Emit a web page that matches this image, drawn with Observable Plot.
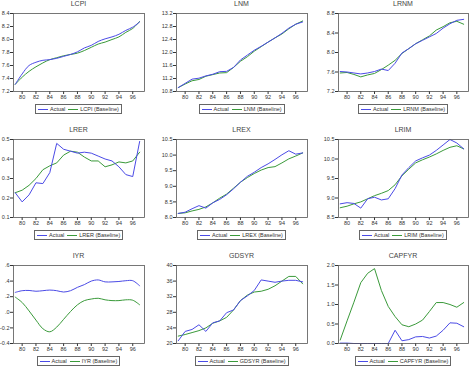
<!DOCTYPE html>
<html>
<head>
<meta charset="utf-8">
<script src="https://cdn.jsdelivr.net/npm/d3@7"></script>
<script src="https://cdn.jsdelivr.net/npm/@observablehq/plot@0.6"></script>
<style>
  html, body { margin: 0; padding: 0; background: #fff; }
  #root { position: relative; width: 474px; height: 366px; overflow: hidden; font-family: "Liberation Sans", Arial, sans-serif; }
  .title { position: absolute; font-size: 7px; font-weight: 400; color: #444; text-align: center; line-height: 8px; }
  .panel { position: absolute; }
  .legend { position: absolute; border: 1px solid #666; font-size: 5.5px; color: #333; display: flex; align-items: center; justify-content: center; gap: 3px; height: 8px; line-height: 8px; padding: 0 2px; white-space: nowrap; background: #fff; }
  .sw { display: inline-block; width: 10px; height: 0; border-top: 1px solid; vertical-align: middle; margin-right: 2px; }
</style>
</head>
<body>
<div id="root"></div>
<script>
const years = [1979,1980,1981,1982,1983,1984,1985,1986,1987,1988,1989,1990,1991,1992,1993,1994,1995,1996,1997];
const xTicks = [1980,1982,1984,1986,1988,1990,1992,1994,1996];

const titles = ["LCPI","LNM","LRNM","LRER","LREX","LRIM","IYR","GDSYR","CAPFYR"];
const seriesNames = ["Actual","(Baseline)"];

const lcpiActual = [7.31,7.47,7.60,7.65,7.68,7.69,7.71,7.74,7.77,7.81,7.87,7.91,7.97,8.01,8.04,8.08,8.14,8.19,8.27];
const lcpiBase   = [7.31,7.42,7.51,7.58,7.64,7.69,7.72,7.75,7.77,7.79,7.83,7.88,7.93,7.96,8.00,8.04,8.11,8.17,8.28];
const lnmActual  = [10.92,11.05,11.18,11.21,11.28,11.33,11.41,11.42,11.54,11.77,11.92,12.07,12.19,12.32,12.45,12.59,12.75,12.87,12.94];
const lnmBase    = [10.92,11.03,11.13,11.17,11.27,11.32,11.37,11.38,11.54,11.73,11.87,12.04,12.18,12.32,12.45,12.57,12.73,12.87,12.97];
const lrnmActual = [7.61,7.60,7.58,7.56,7.58,7.61,7.66,7.63,7.78,7.99,8.08,8.18,8.25,8.32,8.39,8.50,8.59,8.66,8.68];
const lrnmBase   = [7.58,7.59,7.55,7.50,7.54,7.57,7.65,7.74,7.84,7.98,8.08,8.18,8.26,8.34,8.46,8.53,8.61,8.64,8.58];
const lrerActual = [0.227,0.18,0.216,0.278,0.274,0.33,0.48,0.45,0.44,0.43,0.435,0.43,0.415,0.40,0.39,0.36,0.32,0.31,0.49];
const lrerBase   = [0.227,0.24,0.265,0.30,0.345,0.365,0.38,0.42,0.44,0.435,0.41,0.39,0.39,0.36,0.37,0.385,0.38,0.39,0.435];
const lrexActual = [8.13,8.17,8.28,8.38,8.30,8.47,8.58,8.73,8.92,9.13,9.32,9.45,9.60,9.72,9.86,10.01,10.14,10.03,10.07];
const lrexBase   = [8.13,8.15,8.21,8.26,8.34,8.47,8.62,8.75,8.94,9.13,9.28,9.41,9.52,9.60,9.63,9.75,9.88,9.97,10.07];
const lrimActual = [8.85,8.88,8.86,8.74,8.98,9.02,8.95,8.98,9.24,9.59,9.78,9.95,10.03,10.10,10.22,10.36,10.50,10.41,10.26];
const lrimBase   = [8.75,8.79,8.85,8.90,8.98,9.06,9.12,9.19,9.34,9.57,9.74,9.90,9.98,10.05,10.13,10.22,10.30,10.34,10.26];
const iyrActual  = [0.255,0.277,0.28,0.27,0.277,0.285,0.277,0.26,0.277,0.32,0.355,0.40,0.415,0.39,0.39,0.395,0.405,0.405,0.34];
const iyrBase    = [0.195,0.126,0.018,-0.10,-0.21,-0.25,-0.19,-0.09,0.01,0.096,0.15,0.17,0.18,0.16,0.15,0.15,0.16,0.155,0.096];
const gdsyrActual = [20.7,23.1,23.6,24.8,23.1,25.3,25.8,27.9,28.6,31.0,32.2,33.6,36.3,36.0,35.7,36.0,36.2,36.2,35.8];
const gdsyrBase   = [21.9,22.3,22.8,23.3,24.0,25.2,25.8,26.7,28.6,31.0,32.4,33.2,33.4,33.9,34.8,36.0,37.2,37.2,35.3];
const capfyrActual = [0.01,0.01,0,0,0,0,0,0,0.34,0.07,0.10,0.17,0.18,0.14,0.19,0.34,0.53,0.52,0.43];
const capfyrBase   = [0.09,0.58,1.06,1.56,1.80,1.92,1.36,0.95,0.69,0.48,0.43,0.50,0.60,0.82,1.05,1.05,1.00,0.93,1.05];

const yDomains = [[7.2,8.4],[10.8,13.2],[7.2,8.8],[0.1,0.5],[8.0,10.5],[8.5,10.5],[-0.4,0.6],[20,40],[0,2]];
const yTicks = [
  [7.2,7.4,7.6,7.8,8.0,8.2,8.4],
  [10.8,11.2,11.6,12.0,12.4,12.8,13.2],
  [7.2,7.6,8.0,8.4,8.8],
  [0.1,0.2,0.3,0.4,0.5],
  [8.0,8.5,9.0,9.5,10.0,10.5],
  [8.5,9.0,9.5,10.0,10.5],
  [-0.4,-0.2,0.0,0.2,0.4,0.6],
  [20,24,28,32,36,40],
  [0.0,0.5,1.0,1.5,2.0]
];
const actuals = [lcpiActual,lnmActual,lrnmActual,lrerActual,lrexActual,lrimActual,iyrActual,gdsyrActual,capfyrActual];
const baselines = [lcpiBase,lnmBase,lrnmBase,lrerBase,lrexBase,lrimBase,iyrBase,gdsyrBase,capfyrBase];
const smooth = [true,false,false,false,false,false,true,false,false];

const blue = "#4b4be6";
const green = "#3a9a3a";

const fmt1 = d3.format(".1f");
const tickFormats = [fmt1,fmt1,fmt1,fmt1,fmt1,fmt1,
  d => fmt1(d).replace(/^(-?)0\./, "$1."),
  d3.format("d"), fmt1];

// layout (frame positions)
const frameL = [13,176,338], frameR = [144,307,468];
const frameT = [13,139,265], frameB = [91,217,343];
const mL = 16, mR = 2, mT = 3, mB = 12;

const root = document.getElementById("root");

for (let i = 0; i < 9; i++) {
  const col = i % 3, row = Math.floor(i / 3);
  const fw = frameR[col] - frameL[col];
  const fh = frameB[row] - frameT[row];
  const data = years.map((y, k) => ({year: y, actual: actuals[i][k], base: baselines[i][k]}));
  const curve = smooth[i] ? "catmull-rom" : "linear";
  const chart = Plot.plot({
    width: fw + mL + mR,
    height: fh + mT + mB,
    marginLeft: mL, marginRight: mR, marginTop: mT, marginBottom: mB,
    style: {fontSize: "5.5px", fontFamily: "Liberation Sans, Arial, sans-serif", color: "#333", background: "transparent", overflow: "visible"},
    x: {domain: [1978.75, 1997.7], ticks: xTicks, tickFormat: d => String(d % 100).padStart(2, "0"), tickSize: 3, tickPadding: 1, label: null},
    y: {domain: yDomains[i], ticks: yTicks[i], tickFormat: tickFormats[i], tickSize: 3, tickPadding: 1, label: null},
    marks: [
      Plot.lineY(data, {x: "year", y: "base", stroke: green, strokeWidth: 1, curve}),
      Plot.lineY(data, {x: "year", y: "actual", stroke: blue, strokeWidth: 1, curve}),
      Plot.frame({stroke: "#555", strokeWidth: 0.8})
    ]
  });
  chart.classList.add("panel");
  chart.style.left = (frameL[col] - mL) + "px";
  chart.style.top = (frameT[row] - mT) + "px";
  root.appendChild(chart);

  const t = document.createElement("div");
  t.className = "title";
  t.textContent = titles[i];
  t.style.left = frameL[col] + "px";
  t.style.width = fw + "px";
  t.style.top = (frameT[row] - 13) + "px";
  root.appendChild(t);

  const lg = document.createElement("div");
  lg.className = "legend";
  lg.innerHTML = `<span><span class="sw" style="border-color:${blue}"></span>${seriesNames[0]}</span>` +
                 `<span><span class="sw" style="border-color:${green}"></span>${titles[i]} ${seriesNames[1]}</span>`;
  root.appendChild(lg);
  const w = lg.offsetWidth;
  lg.style.left = (frameL[col] + fw / 2 - w / 2) + "px";
  lg.style.top = (frameB[row] + 13) + "px";
}
</script>
</body>
</html>
